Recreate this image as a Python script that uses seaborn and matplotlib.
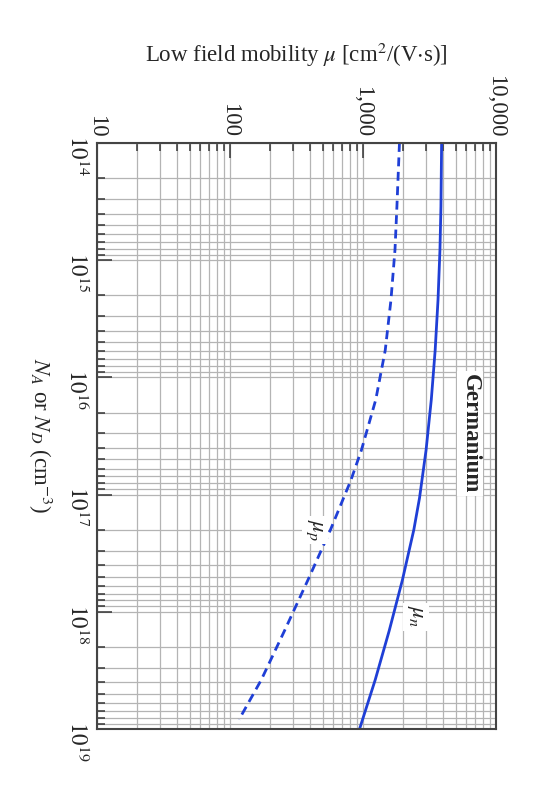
import matplotlib
matplotlib.use("Agg")
import numpy as np
import pandas as pd
import seaborn as sns
import matplotlib.pyplot as plt
from matplotlib import transforms
from matplotlib.ticker import LogLocator, NullFormatter

# ---- data ----
doping_n = [1e14, 3.47e14, 8.13e14, 2.19e15, 5.89e15, 1.55e16, 4.17e16,
            1.07e17, 2.0e17, 5.37e17, 1.45e18, 3.8e18, 1e19]
mu_n = [3900, 3855, 3790, 3664, 3487, 3262, 2980,
        2660, 2410, 1977, 1574, 1236, 942]
doping_p = [1e14, 3.47e14, 8.13e14, 2.19e15, 5.89e15, 1.55e16, 4.17e16,
            7.59e16, 1.07e17, 2.0e17, 5.37e17, 1.45e18, 3.8e18, 8.3e18]
mu_p = [1880, 1799, 1740, 1622, 1469, 1247, 973,
        809, 714, 569, 385, 257, 172, 117]

mob_ticks = [10, 100, 1000, 10000]
mob_labels = ["10", "100", "1,000", "10,000"]
dop_ticks = [1e14, 1e15, 1e16, 1e17, 1e18, 1e19]
dop_labels = [r"$10^{14}$", r"$10^{15}$", r"$10^{16}$", r"$10^{17}$", r"$10^{18}$", r"$10^{19}$"]

xlabel = r"Low field mobility $\mu$ [cm$^{2}$/(V$\cdot$s)]"
ylabel = r"$N_A$ or $N_D$ (cm$^{-3}$)"
material = "Germanium"
label_n = r"$\mu_n$"
label_p = r"$\mu_p$"
pos_material = (6380, 3.0e16)
pos_n = (2500, 1.1e18)
pos_p = (435, 2.0e17)

blue = "#1f3fd6"

sns.set_style("white")
plt.rcParams["font.family"] = ["Liberation Serif", "DejaVu Serif"]
plt.rcParams["mathtext.fontset"] = "stix"

fig = plt.figure(figsize=(5.42, 7.88), dpi=100)
ax = fig.add_axes([97 / 542, 1 - 729 / 788, 399 / 542, 586 / 788])

sns.lineplot(x=mu_n, y=doping_n, sort=False, color=blue, lw=2.0, ax=ax)
sns.lineplot(x=mu_p, y=doping_p, sort=False, color=blue, lw=2.0,
             linestyle=(0, (3.2, 2.0)), ax=ax)

ax.set_xscale("log")
ax.set_yscale("log")
ax.set_xlim(10, 10000)
ax.set_ylim(1e19, 1e14)

ax.set_xticks(mob_ticks)
ax.set_xticklabels(mob_labels)
ax.set_yticks(dop_ticks)
ax.set_yticklabels(dop_labels)
ax.xaxis.set_minor_locator(LogLocator(base=10, subs=np.arange(2, 10)))
ax.yaxis.set_minor_locator(LogLocator(base=10, subs=np.arange(2, 10)))
ax.xaxis.set_minor_formatter(NullFormatter())
ax.yaxis.set_minor_formatter(NullFormatter())

ax.set_axisbelow(True)
ax.grid(True, which="both", color="#b4b4b4", lw=0.9)

ax.xaxis.tick_top()
ax.xaxis.set_label_position("top")
ax.tick_params(axis="x", which="both", direction="in", top=True, bottom=False,
               labelsize=16.5, labelrotation=-90, color="#333333", width=1.1, pad=4)
ax.tick_params(axis="y", which="both", direction="in", left=True, right=False,
               labelsize=16.5, labelrotation=-90, color="#333333", width=1.1, pad=6)
ax.tick_params(which="major", length=11)
ax.tick_params(which="minor", length=6)

for sp in ax.spines.values():
    sp.set_color("#444444")
    sp.set_linewidth(1.5)

off = transforms.ScaledTranslation(0, -12 / 100, fig.dpi_scale_trans)
for lab in ax.get_yticklabels():
    lab.set_va("center")
    lab.set_transform(lab.get_transform() + off)

ax.set_xlabel(xlabel, fontsize=16.5, labelpad=9)
ax.set_ylabel(ylabel, fontsize=16.5, rotation=-90, labelpad=17)
ax.yaxis.label.set_va("center")

bbox = dict(facecolor="white", edgecolor="none", pad=2)
ax.text(*pos_material, material, rotation=-90, fontsize=16.5, fontweight="bold",
        ha="center", va="center", bbox=bbox)
ax.text(*pos_n, label_n, rotation=-90, fontsize=16.5, ha="center", va="center", bbox=bbox)
ax.text(*pos_p, label_p, rotation=-90, fontsize=16.5, ha="center", va="center", bbox=bbox)

fig.savefig("out.png", dpi=100)
